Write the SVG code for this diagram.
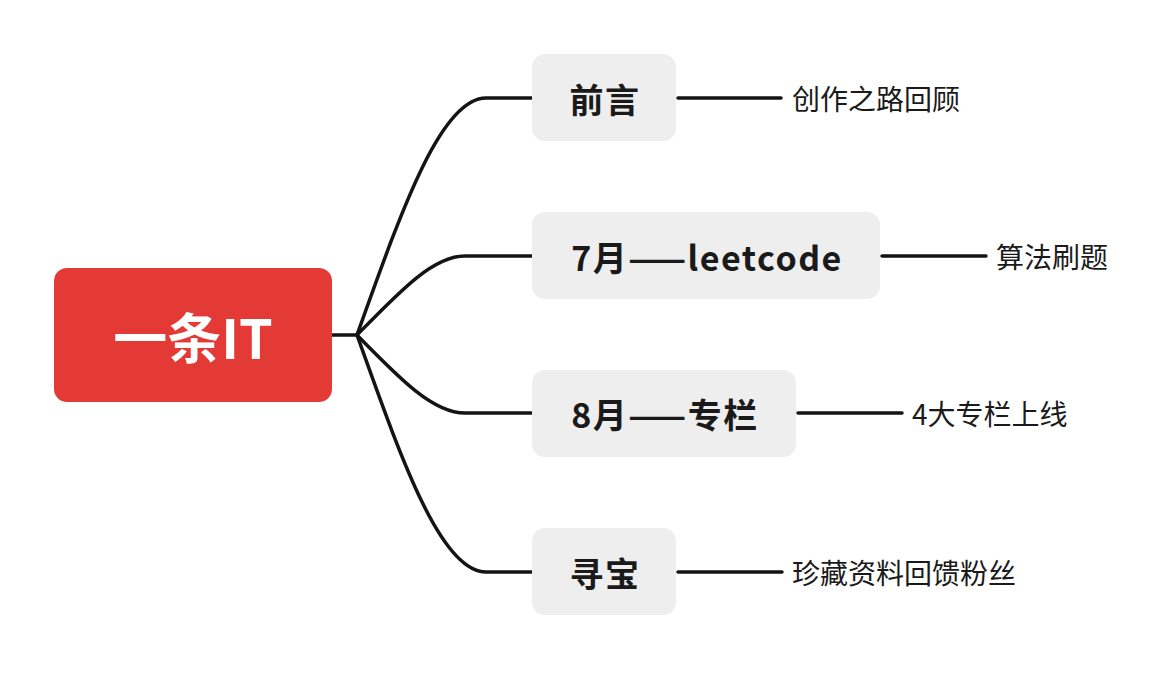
<svg xmlns="http://www.w3.org/2000/svg" width="1166" height="680" viewBox="0 0 1166 680">
<style>
.root{fill:#e43a36}
.box{fill:#eeeeee}
.rt{font-family:"Noto Sans CJK SC","Noto Sans",sans-serif;font-weight:700;font-size:54px;fill:#ffffff;text-anchor:middle;dominant-baseline:central}
.nt{font-family:"Noto Sans CJK SC","Noto Sans",sans-serif;font-weight:700;font-size:34px;letter-spacing:1.5px;fill:#1a1a1a;text-anchor:middle;dominant-baseline:central}
.lt{font-family:"Noto Sans CJK SC","Noto Sans",sans-serif;font-weight:400;font-size:28px;fill:#1a1a1a;dominant-baseline:central}
.c{fill:none;stroke:#141414;stroke-width:3.5;stroke-linecap:round}
</style>
<rect width="1166" height="680" fill="#ffffff"/>
<g id="connectors">
<path class="c" d="M332,335 L357,335"/>
<path class="c" d="M357,335 C400,215 440,98 486,98 L532,98"/>
<path class="c" d="M357,335 C400,291 433,256 465,256 L532,256"/>
<path class="c" d="M357,335 C400,379 433,413 465,413 L532,413"/>
<path class="c" d="M357,335 C400,455 440,572 486,572 L532,572"/>
<path class="c" d="M678,98 L781,98"/>
<path class="c" d="M882,256 L986,256"/>
<path class="c" d="M798,413 L902,413"/>
<path class="c" d="M678,572 L782,572"/>
</g>
<g id="root">
<rect class="root" x="54" y="268" width="278" height="134" rx="13"/>
<text class="rt" x="193" y="335">一条IT</text>
</g>
<g id="n1">
<rect class="box" x="532" y="54" width="144" height="87" rx="13"/>
<text class="nt" x="605" y="98">前言</text>
</g>
<g id="n2">
<rect class="box" x="532" y="212" width="348" height="87" rx="13"/>
<text class="nt" x="707" y="256">7月——leetcode</text>
</g>
<g id="n3">
<rect class="box" x="532" y="370" width="264" height="87" rx="13"/>
<text class="nt" x="665" y="413">8月——专栏</text>
</g>
<g id="n4">
<rect class="box" x="532" y="528" width="144" height="87" rx="13"/>
<text class="nt" x="605" y="572">寻宝</text>
</g>
<g id="l1"><text class="lt" x="792" y="98">创作之路回顾</text></g>
<g id="l2"><text class="lt" x="996" y="256">算法刷题</text></g>
<g id="l3"><text class="lt" x="912" y="413">4大专栏上线</text></g>
<g id="l4"><text class="lt" x="792" y="572">珍藏资料回馈粉丝</text></g>
</svg>
